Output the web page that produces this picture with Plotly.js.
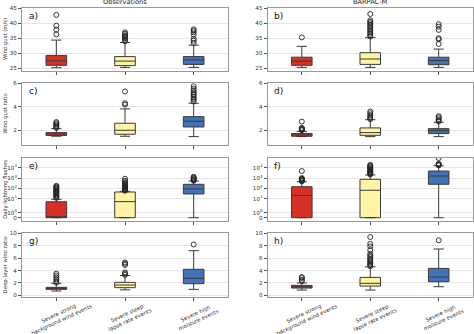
<!DOCTYPE html>
<html><head><meta charset="utf-8">
<script src="https://cdn.plot.ly/plotly-3.0.1.min.js"></script>
<style>html,body{margin:0;padding:0;background:#fff}</style>
</head><body><div id="chart" style="width:474px;height:334px"></div>
<script>
const categories = ['Severe strong<br>background wind events', 'Severe steep<br>lapse rate events', 'Severe high<br>moisture events'];
const columnTitles = ['Observations', 'BARPAC-M'];
const rowTitles = ['Wind gust (m/s)', 'Wind gust ratio', 'Daily lightning flashes', 'Deep-layer wind ratio'];
const panelLabels = ['a)', 'b)', 'c)', 'd)', 'e)', 'f)', 'g)', 'h)'];
const boxColors = ['#d73027', '#fff3a6', '#4272b8'];

// a) Observations, wind gust
const gustObsQ1 = [26.0, 25.9, 26.3];
const gustObsMedian = [27.5, 27.4, 27.8];
const gustObsQ3 = [29.3, 28.9, 28.9];
const gustObsLow = [25.2, 25.3, 25.3];
const gustObsHigh = [34.4, 33.6, 32.7];
const gustObsOutliers = [[36.3, 37.9, 39.2, 42.8], [34.0, 34.5, 35.0, 35.3, 35.7, 36.0, 36.5, 37.0], [33.5, 34.2, 34.8, 36.2, 37.0, 37.5, 38.0]];
// b) BARPAC-M, wind gust
const gustModQ1 = [26.0, 26.3, 26.2];
const gustModMedian = [27.4, 28.1, 27.6];
const gustModQ3 = [28.7, 30.2, 28.7];
const gustModLow = [25.3, 25.3, 25.3];
const gustModHigh = [32.3, 35.2, 31.4];
const gustModOutliers = [[35.3], [35.6, 36.0, 36.5, 37.0, 37.5, 38.0, 38.5, 39.0, 39.5, 40.0, 40.5, 41.0, 43.1], [33.1, 34.7, 35.0, 37.8, 38.9, 39.7]];
// c) Observations, wind gust ratio
const ratioObsQ1 = [1.55, 1.66, 2.28];
const ratioObsMedian = [1.69, 2.0, 2.77];
const ratioObsQ3 = [1.8, 2.6, 3.16];
const ratioObsLow = [1.49, 1.49, 1.46];
const ratioObsHigh = [2.14, 3.82, 4.3];
const ratioObsOutliers = [[2.2, 2.3, 2.4, 2.5, 2.6, 2.7], [4.18, 4.3, 5.3], [4.45, 4.6, 4.7, 4.85, 5.0, 5.1, 5.25, 5.4, 5.55, 5.75]];
// d) BARPAC-M, wind gust ratio
const ratioModQ1 = [1.49, 1.57, 1.72];
const ratioModMedian = [1.6, 1.8, 1.97];
const ratioModQ3 = [1.72, 2.2, 2.14];
const ratioModLow = [1.46, 1.46, 1.46];
const ratioModHigh = [1.9, 2.9, 2.68];
const ratioModOutliers = [[2.0, 2.05, 2.1, 2.15, 2.2, 2.74], [2.95, 3.05, 3.15, 3.3, 3.45, 3.6], [2.75, 2.85, 2.95, 3.1, 3.2]];
// e) Observations, daily lightning flashes
const lightObsQ1 = [0, 0, 29];
const lightObsMedian = [0, 6.2, 88];
const lightObsQ3 = [6.1, 45, 250];
const lightObsLow = [0, 0, 0];
const lightObsHigh = [9.1, 52, 520];
const lightObsOutliers = [[12, 15, 18, 22, 27, 33, 40, 48, 58, 70, 85, 100, 120, 145, 180], [60, 70, 80, 95, 110, 130, 150, 180, 210, 250, 300, 400, 550, 870], [560, 650, 750, 900, 1100, 1350]];
// f) BARPAC-M, daily lightning flashes
const lightModQ1 = [0, 0, 250];
const lightModMedian = [21, 66, 1580];
const lightModQ3 = [146, 760, 4800];
const lightModLow = [0, 0, 0];
const lightModHigh = [445, 2000, 15500];
const lightModOutliers = [[480, 550, 650, 750, 850, 1000, 4800], [2200, 2600, 3000, 3500, 4200, 5000, 6000, 7500, 9000, 11000, 13500, 16000, 18500], [17000, 19000, 21000, 24000, 88000]];
// g) Observations, deep-layer wind ratio
const deepObsQ1 = [0.97, 1.24, 1.88];
const deepObsMedian = [1.13, 1.67, 2.74];
const deepObsQ3 = [1.29, 2.1, 4.2];
const deepObsLow = [0.7, 0.9, 0.97];
const deepObsHigh = [1.94, 3.2, 7.2];
const deepObsOutliers = [[2.05, 2.3, 2.6, 2.9, 3.2, 3.5], [3.3, 3.5, 3.7, 4.9, 5.1, 5.3], [8.2]];
// h) BARPAC-M, deep-layer wind ratio
const deepModQ1 = [1.18, 1.5, 2.2];
const deepModMedian = [1.4, 1.94, 2.96];
const deepModQ3 = [1.61, 2.9, 4.35];
const deepModLow = [0.86, 0.86, 1.4];
const deepModHigh = [2.0, 4.6, 7.47];
const deepModOutliers = [[2.3, 2.5, 2.8, 2.95], [4.7, 4.9, 5.1, 5.3, 5.5, 5.7, 5.9, 6.2, 6.4, 6.7, 7.3, 7.9, 8.3, 9.4], [8.87]];

const gustTicks = [25, 30, 35, 40, 45];
const ratioTicks = [2, 4, 6];
const lightTicks = [0, 1, 10, 100, 1000, 10000, 100000];
const lightTickText = ['0', '10<sup>0</sup>', '10<sup>1</sup>', '10<sup>2</sup>', '10<sup>3</sup>', '10<sup>4</sup>', '10<sup>5</sup>'];
const deepTicks = [0, 2, 4, 6, 8, 10];

// symmetric-log style scale (linear near zero, logarithmic above)
function symT(v) {
  if (v <= 0) return 0;
  if (v < 1) return 0.483 * v;
  if (v < 10) return 0.483 + 1.353 * Math.log10(v);
  return 0.836 + Math.log10(v);
}
const ident = v => v;

const panels = [
  {q1: gustObsQ1, med: gustObsMedian, q3: gustObsQ3, lo: gustObsLow, hi: gustObsHigh, out: gustObsOutliers, f: ident, range: [24.2, 45], ticks: gustTicks},
  {q1: gustModQ1, med: gustModMedian, q3: gustModQ3, lo: gustModLow, hi: gustModHigh, out: gustModOutliers, f: ident, range: [24.2, 45], ticks: gustTicks},
  {q1: ratioObsQ1, med: ratioObsMedian, q3: ratioObsQ3, lo: ratioObsLow, hi: ratioObsHigh, out: ratioObsOutliers, f: ident, range: [0.72, 6], ticks: ratioTicks},
  {q1: ratioModQ1, med: ratioModMedian, q3: ratioModQ3, lo: ratioModLow, hi: ratioModHigh, out: ratioModOutliers, f: ident, range: [0.72, 6], ticks: ratioTicks},
  {q1: lightObsQ1, med: lightObsMedian, q3: lightObsQ3, lo: lightObsLow, hi: lightObsHigh, out: lightObsOutliers, f: symT, range: [-0.29, 5.78], ticks: lightTicks, text: lightTickText},
  {q1: lightModQ1, med: lightModMedian, q3: lightModQ3, lo: lightModLow, hi: lightModHigh, out: lightModOutliers, f: symT, range: [-0.29, 5.78], ticks: lightTicks, text: lightTickText},
  {q1: deepObsQ1, med: deepObsMedian, q3: deepObsQ3, lo: deepObsLow, hi: deepObsHigh, out: deepObsOutliers, f: ident, range: [-0.18, 10], ticks: deepTicks},
  {q1: deepModQ1, med: deepModMedian, q3: deepModQ3, lo: deepModLow, hi: deepModHigh, out: deepModOutliers, f: ident, range: [-0.18, 10], ticks: deepTicks}
];

const W = 474, H = 334;
const colDomains = [[22 / W, 228 / W], [267.6 / W, 472.9 / W]];
const rowPx = [[8.3, 70.7], [83.3, 145.3], [158, 220.7], [233.3, 296.5]];
const rowDomains = rowPx.map(r => [1 - r[1] / H, 1 - r[0] / H]);

const traces = [];
const layout = {
  width: W, height: H, autosize: false,
  margin: {l: 0, r: 0, t: 0, b: 0},
  paper_bgcolor: '#fff', plot_bgcolor: '#fff',
  font: {family: 'DejaVu Sans, sans-serif', size: 6, color: '#333'},
  showlegend: false, boxmode: 'overlay',
  annotations: []
};

panels.forEach((p, k) => {
  const n = k + 1;
  const xa = n === 1 ? 'x' : 'x' + n;
  const ya = n === 1 ? 'y' : 'y' + n;
  const col = k % 2, row = Math.floor(k / 2);
  for (let i = 0; i < 3; i++) {
    traces.push({
      type: 'box', xaxis: xa, yaxis: ya, x: [i + 1],
      q1: [p.f(p.q1[i])], median: [p.f(p.med[i])], q3: [p.f(p.q3[i])],
      lowerfence: [p.f(p.lo[i])], upperfence: [p.f(p.hi[i])],
      width: 0.3, whiskerwidth: 0.5, boxpoints: false,
      fillcolor: boxColors[i], line: {color: '#3a3a3a', width: 1},
      hoverinfo: 'skip'
    });
    traces.push({
      type: 'scatter', mode: 'markers', xaxis: xa, yaxis: ya,
      x: p.out[i].map(() => i + 1), y: p.out[i].map(p.f),
      marker: {symbol: 'circle-open', size: 5, color: '#222', line: {width: 0.9}},
      hoverinfo: 'skip', cliponaxis: true
    });
  }
  layout[n === 1 ? 'xaxis' : 'xaxis' + n] = {
    domain: colDomains[col], anchor: ya, range: [0.5, 3.5], type: 'linear',
    tickvals: [1, 2, 3], showticklabels: false, ticks: 'outside', ticklen: 3, tickcolor: '#555',
    showline: true, mirror: true, linecolor: '#999', linewidth: 1, showgrid: false, zeroline: false
  };
  layout[n === 1 ? 'yaxis' : 'yaxis' + n] = {
    domain: rowDomains[row], anchor: xa, range: p.range, type: 'linear',
    tickvals: p.ticks.map(p.f), ticktext: p.text || p.ticks.map(String),
    ticks: 'outside', ticklen: 3, tickcolor: '#555', tickfont: {size: 5.6, color: '#333'},
    showline: true, mirror: true, linecolor: '#999', linewidth: 1,
    showgrid: true, gridcolor: '#e6e6e6', gridwidth: 1, zeroline: false
  };
  layout.annotations.push({
    text: panelLabels[k], xref: xa + ' domain', yref: ya + ' domain',
    x: 0.022, y: 0.88, xanchor: 'left', yanchor: 'middle', showarrow: false,
    font: {size: 9, color: '#111'}
  });
  if (row === 3) {
    categories.forEach((c, i) => {
      layout.annotations.push({
        text: c, xref: xa, yref: 'paper', x: i + 1.05, y: 1 - 316.5 / H,
        xanchor: 'center', yanchor: 'middle', textangle: -25, showarrow: false,
        align: 'center', font: {size: 5.4, color: '#333'}
      });
    });
  }
});

columnTitles.forEach((t, c) => {
  layout.annotations.push({
    text: t, xref: 'paper', yref: 'paper', x: (colDomains[c][0] + colDomains[c][1]) / 2,
    y: 1 - 2 / H, xanchor: 'center', yanchor: 'middle', showarrow: false,
    font: {size: 6.6, color: '#222'}
  });
});
rowTitles.forEach((t, r) => {
  layout.annotations.push({
    text: t, xref: 'paper', yref: 'paper', x: 5.5 / W,
    y: (rowDomains[r][0] + rowDomains[r][1]) / 2, xanchor: 'center', yanchor: 'middle',
    textangle: -90, showarrow: false, font: {size: 5.3, color: '#333'}
  });
});

Plotly.newPlot('chart', traces, layout, {staticPlot: true, displayModeBar: false});
</script></body></html>
